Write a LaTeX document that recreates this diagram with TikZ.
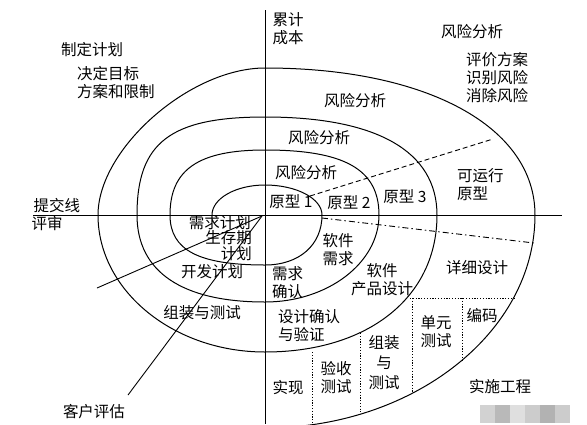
\documentclass[tikz,border=0pt]{standalone}
\usepackage{fontspec}
\setmainfont{Noto Sans CJK SC}
\begin{document}
\begin{tikzpicture}[x=1pt,y=-1pt,
  every node/.style={inner sep=0pt,font=\fontsize{15.5}{18}\selectfont},
  lbl/.style={align=center},
  lbll/.style={align=left},
  lblr/.style={align=right},
  spiralline/.style={line width=1pt},
  axisline/.style={line width=0.9pt},
  dashln/.style={line width=0.9pt,dash pattern=on 5pt off 3pt},
  dashdotln/.style={line width=0.9pt,dash pattern=on 6pt off 3pt on 1.5pt off 3pt},
  dotln/.style={line width=0.9pt,dash pattern=on 1.2pt off 1.6pt},
  wm/.style={draw=none}]
\useasboundingbox (0,0) rectangle (587,424);
\fill[white] (0,0) rectangle (587,424);

% axes
\coordinate (hL) at (33,215);
\coordinate (hR) at (562,215);
\coordinate (vT) at (265,10);
\coordinate (vB) at (265,424);
\draw[axisline] (hL) -- (hR);
\draw[axisline] (vT) -- (vB);

% spiral
\begin{scope}
\clip (0,0) rectangle (587,424);
\draw[spiralline] (212,215)
  .. controls (212,198.5) and (235.8,185) .. (265,185)
  .. controls (296.4,185) and (322,198.5) .. (322,215)
  .. controls (322,245) and (299.2,265) .. (265,265)
  .. controls (198.5,265) and (170,250) .. (170,215)
  .. controls (170,169.5) and (198.5,150) .. (265,150)
  .. controls (344.8,150) and (379,169.5) .. (379,215)
  .. controls (379,262.85) and (327.7,302) .. (265,302)
  .. controls (181.8,302) and (137,271.55) .. (137,215)
  .. controls (137,142.5) and (170.3,117) .. (265,117)
  .. controls (376.8,117) and (437,151.3) .. (437,215)
  .. controls (437,297.2) and (368.2,352) .. (265,352)
  .. controls (173.15,352) and (98,290.35) .. (98,215)
  .. controls (98,148.85) and (189.85,68) .. (265,68)
  .. controls (427,68) and (535,126.8) .. (535,215)
  .. controls (535,332.15) and (413.5,428) .. (265,428);
\end{scope}

% dashed lines
\coordinate (d1a) at (310,196);
\coordinate (d1b) at (493,139);
\draw[dashln] (d1a) -- (d1b);
\coordinate (d2a) at (322,218);
\coordinate (d2b) at (534,243);
\draw[dashdotln] (d2a) -- (d2b);

% customer evaluation lines
\coordinate (cO) at (262,216);
\coordinate (cA) at (97,288);
\coordinate (cB) at (128,395);
\draw[line width=0.9pt] (cO) -- (cA);
\draw[line width=0.9pt] (cO) -- (cB);

% dotted lines
\coordinate (p1) at (410,298);
\coordinate (p2) at (515,298);
\coordinate (p3) at (412,298);
\coordinate (p4) at (412,393);
\coordinate (p5) at (462,298);
\coordinate (p6) at (462,360);
\coordinate (p7) at (360,333);
\coordinate (p8) at (360,412);
\coordinate (p9) at (312,352);
\coordinate (p10) at (312,424);
\draw[dotln] (p1) -- (p2);
\draw[dotln] (p3) -- (p4);
\draw[dotln] (p5) -- (p6);
\draw[dotln] (p7) -- (p8);
\draw[dotln] (p9) -- (p10);

% labels
\node[lbll] (t1) at (288,29) {累计\\成本};
\node[lbl] (t2) at (92,50) {制定计划};
\node[lbll,anchor=west] (t3) at (77,83) {决定目标\\方案和限制};
\node[lbl] (t4) at (472,32) {风险分析};
\node[lbll] (t5) at (497,78) {评价方案\\识别风险\\消除风险};
\node[lbl] (t6) at (355,101) {风险分析};
\node[lbl] (t7) at (319,138) {风险分析};
\node[lbl] (t8) at (306,173) {风险分析};
\node[lbl] (t9) at (291,202) {原型 1};
\node[lbl] (t10) at (349,203) {原型 2};
\node[lbl] (t11) at (405,197) {原型 3};
\node[lbll,anchor=west] (t12) at (457,185) {可运行\\原型};
\node[lbl] (t13) at (57,206) {提交线};
\node[lbl] (t14) at (47,224) {评审};
\node[lbl,anchor=east] (t15) at (251,223) {需求计划};
\node[lbl,anchor=east] (t16) at (252,238) {生存期};
\node[lbl,anchor=east] (t17) at (252,254) {计划};
\node[lbl] (t18) at (212,272) {开发计划};
\node[lbl] (t19) at (202,313) {组装与测试};
\node[lbll,anchor=west] (t20) at (272,283) {需求\\确认};
\node[lbl] (t21) at (338,250) {软件\\需求};
\node[lbl] (t22) at (382,280) {软件\\产品设计};
\node[lbl] (t23) at (477,268) {详细设计};
\node[lbll,anchor=west] (t24) at (278,326) {设计确认\\与验证};
\node[lbl] (t25) at (436,332) {单元\\测试};
\node[lbl] (t26) at (482,316) {编码};
\node[lbl,font=\fontsize{15.5}{20}\selectfont] (t27) at (384,363) {组装\\与\\测试};
\node[lbl] (t28) at (336,378) {验收\\测试};
\node[lbl] (t29) at (288,388) {实现};
\node[lbl] (t30) at (500,387) {实施工程};
\node[lbl] (t31) at (94,412) {客户评估};

% watermark blocks
\fill[wm,gray!35] (480,405) rectangle (495,423);
\fill[wm,gray!55] (495,405) rectangle (510,423);
\fill[wm,gray!25] (510,405) rectangle (525,423);
\fill[wm,gray!40] (525,405) rectangle (540,423);
\fill[wm,gray!60] (540,405) rectangle (555,423);
\fill[wm,gray!40] (555,405) rectangle (570,423);
\end{tikzpicture}
\end{document}
